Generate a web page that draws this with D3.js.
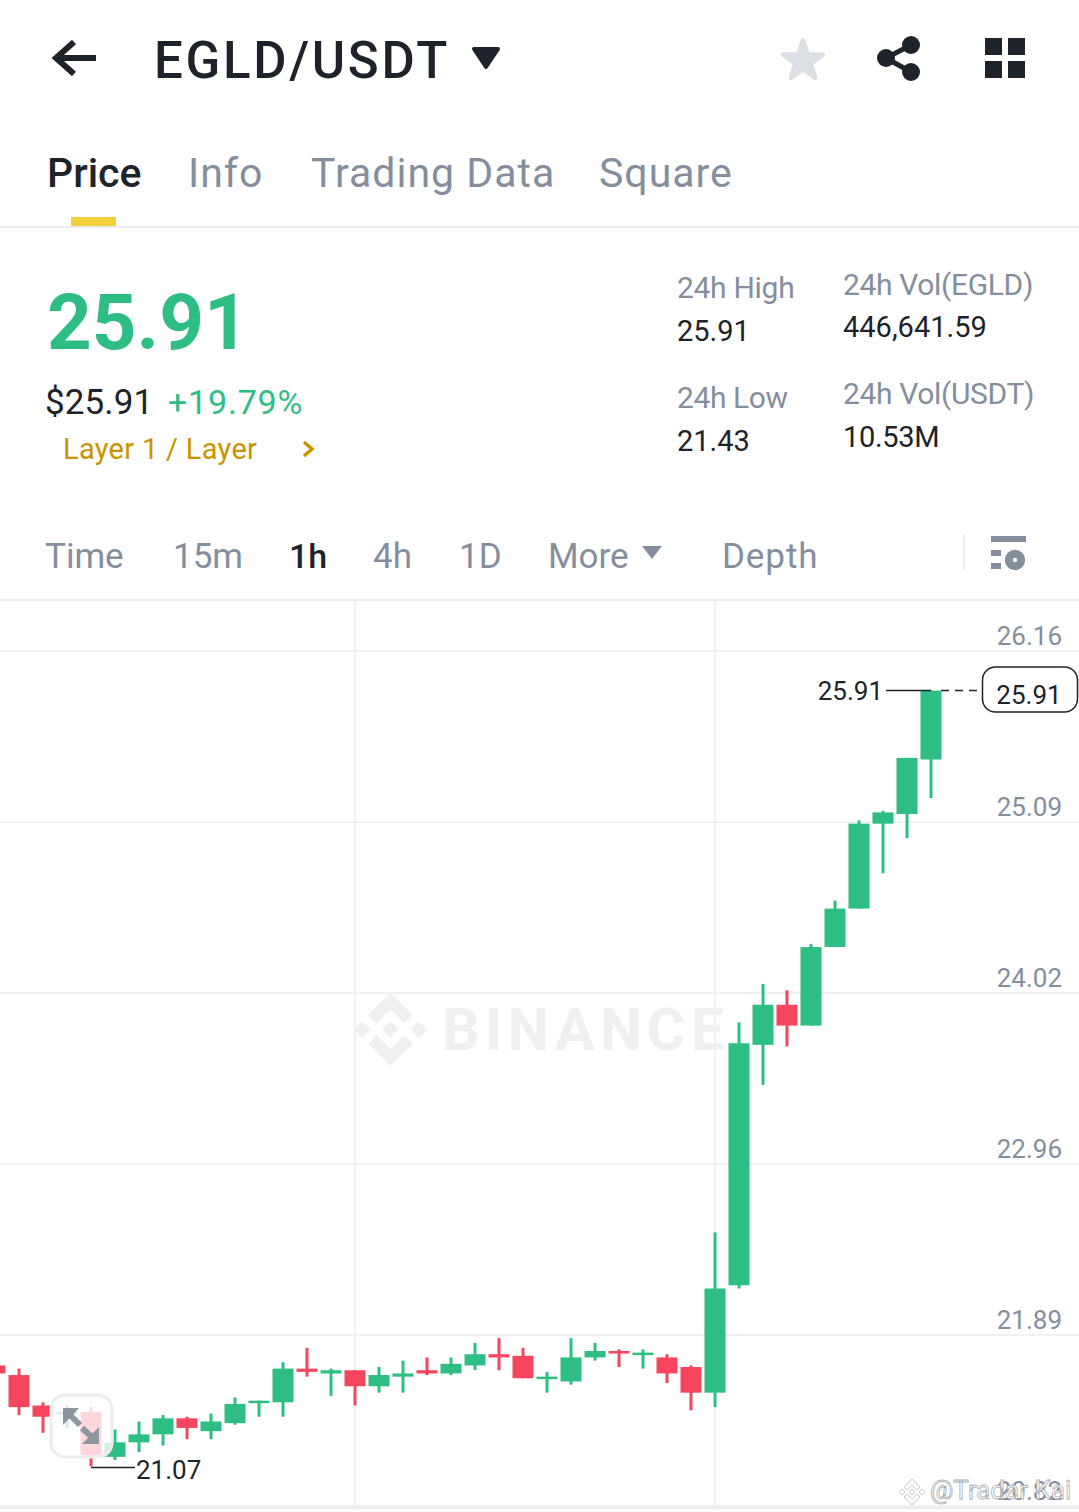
<!DOCTYPE html>
<html>
<head>
<meta charset="utf-8">
<script src="https://cdn.jsdelivr.net/npm/d3@7"></script>
<style>
  html, body { margin: 0; background: #fff; }
  svg { display: block; }
  text { font-family: Roboto, sans-serif; }
</style>
</head>
<body>
<div id="chart"></div>
<script>
// hourly candles, left to right
var open  = [21.70,21.64,21.45,21.40,21.41,21.13,21.22,21.27,21.37,21.29,21.34,21.47,21.47,21.68,21.65,21.67,21.57,21.63,21.67,21.65,21.70,21.77,21.76,21.62,21.60,21.75,21.79,21.77,21.75,21.69,21.53,22.20,23.70,23.95,23.82,24.31,24.55,25.08,25.14,25.48];
var high  = [21.70,21.68,21.47,21.45,21.44,21.30,21.35,21.39,21.38,21.40,21.50,21.48,21.72,21.81,21.68,21.67,21.69,21.73,21.75,21.75,21.84,21.87,21.81,21.66,21.87,21.84,21.80,21.80,21.77,21.70,22.53,23.84,24.08,24.04,24.33,24.60,25.10,25.16,25.49,25.91];
var low   = [21.65,21.39,21.28,21.31,21.07,21.11,21.16,21.20,21.24,21.24,21.33,21.38,21.38,21.63,21.51,21.45,21.53,21.53,21.64,21.64,21.67,21.67,21.62,21.53,21.58,21.73,21.69,21.68,21.59,21.42,21.44,22.18,23.45,23.69,23.82,24.31,24.55,24.77,24.99,25.24];
var close = [21.65,21.44,21.38,21.41,21.14,21.22,21.27,21.37,21.31,21.35,21.46,21.48,21.68,21.66,21.67,21.57,21.64,21.65,21.65,21.71,21.77,21.75,21.62,21.63,21.75,21.79,21.78,21.78,21.65,21.53,22.18,23.71,23.95,23.82,24.31,24.55,25.08,25.15,25.49,25.91];

var priceTicks = [26.157,25.09,24.023,22.957,21.89,20.823];
var timeGrid = [15,30]; // candle index where the vertical lines sit

var tabs = ["Price","Info","Trading Data","Square"];
var tabX = [47,188,311,599];
var periods = ["Time","15m","1h","4h","1D","More","Depth"];
var periodX = [45,173,289,373,459,548,722];

var green = "#2ebd85", red = "#f6465d", ink = "#1e2329", grey = "#848e9c", line = "#eaecef";
var logoPath = "M38.73 53.2l24.59-24.58 24.6 24.6 14.3-14.31L63.32 0l-38.9 38.9zM0 63.31l14.3-14.31 14.31 14.31-14.31 14.3zM38.73 73.41l24.59 24.59 24.6-24.6 14.31 14.29-38.9 38.91-38.91-38.88v-.03zM98.28 63.32l14.3-14.31 14.31 14.3-14.31 14.32zM77.83 63.3L63.32 48.78 52.59 59.51l-1.24 1.23-2.54 2.54 14.51 14.5 14.51-14.47z";

var svg = d3.select("#chart").append("svg").attr("width", 1079).attr("height", 1512);

function label(str, x, y, size, fill, weight, anchor, spacing) {
    return svg.append("text").attr("x", x).attr("y", y)
        .attr("font-size", size).attr("fill", fill)
        .attr("font-weight", weight || 400)
        .attr("text-anchor", anchor || "start")
        .attr("letter-spacing", spacing || 0)
        .text(str);
}

// header
svg.append("path").attr("d", "M96 58H56M74 42L56 58L74 74")
    .attr("fill", "none").attr("stroke", ink).attr("stroke-width", 6);
label("EGLD/USDT", 154, 78, 51, ink, 500, "start", 2.7);
svg.append("path").attr("d", "M474 49H498L486 67Z").attr("fill", ink).attr("stroke", ink).attr("stroke-width", 4).attr("stroke-linejoin", "round");

svg.append("path").attr("d", d3.symbol().type(d3.symbolStar).size(470))
    .attr("transform", "translate(803,61)")
    .attr("fill", "#dcdfe3").attr("stroke", "#dcdfe3").attr("stroke-width", 5).attr("stroke-linejoin", "round");

svg.append("path").attr("d", "M911 45L886 58L911 72").attr("fill", "none").attr("stroke", ink).attr("stroke-width", 5);
[[911,45],[886,58],[911,72]].forEach(function (p) {
    svg.append("circle").attr("cx", p[0]).attr("cy", p[1]).attr("r", 9).attr("fill", ink);
});
[[985,38],[1008,38],[985,61],[1008,61]].forEach(function (p) {
    svg.append("rect").attr("x", p[0]).attr("y", p[1]).attr("width", 17).attr("height", 17).attr("fill", ink);
});

// tabs
tabs.forEach(function (t, i) {
    label(t, tabX[i], 187, 41, i == 0 ? ink : grey, i == 0 ? 500 : 400, "start", i == 0 ? 0 : 1);
});
svg.append("rect").attr("x", 71).attr("y", 217).attr("width", 45).attr("height", 9).attr("fill", "#f3cf3c");
svg.append("rect").attr("x", 0).attr("y", 226).attr("width", 1079).attr("height", 2).attr("fill", line);

// price block
label("25.91", 47, 349, 78, green, 700);
label("$25.91", 45, 414, 35, ink, 400, "start", 0.1);
label("+19.79%", 168, 414, 34, green, 400, "start", 0.8);
label("Layer 1 / Layer", 63, 459, 29, "#c99400", 400, "start", 0.3);
svg.append("path").attr("d", "M304 442L312 449L304 456").attr("fill", "none").attr("stroke", "#c99400").attr("stroke-width", 3.5);

label("24h High", 677, 298, 30, grey, 400, "start", -0.3);
label("25.91", 677, 341, 29, ink);
label("24h Low", 677, 408, 30, grey, 400, "start", -0.4);
label("21.43", 677, 451, 29, ink);
label("24h Vol(EGLD)", 843, 295, 30, grey, 400, "start", -0.35);
label("446,641.59", 843, 337, 29, ink);
label("24h Vol(USDT)", 843, 404, 30, grey, 400, "start", -0.35);
label("10.53M", 843, 447, 29, ink, 400, "start", -0.3);

// period row
periods.forEach(function (p, i) {
    var on = p == "1h";
    label(p, periodX[i], 568, on ? 34 : 35, on ? ink : grey, on ? 500 : 400, "start", p == "Depth" ? 0.9 : 0);
});
svg.append("path").attr("d", "M642 546H662L652 559Z").attr("fill", grey);
svg.append("rect").attr("x", 963).attr("y", 535).attr("width", 2).attr("height", 35).attr("fill", line);
svg.append("rect").attr("x", 991).attr("y", 536).attr("width", 35).attr("height", 6).attr("fill", grey);
svg.append("rect").attr("x", 991).attr("y", 550).attr("width", 10).attr("height", 6).attr("fill", grey);
svg.append("rect").attr("x", 991).attr("y", 563).attr("width", 10).attr("height", 6).attr("fill", grey);
svg.append("path").attr("d", d3.symbol().type(d3.symbolCircle).size(120))
    .attr("transform", "translate(1015,560)").attr("fill", "#fff").attr("stroke", grey).attr("stroke-width", 8);
svg.append("rect").attr("x", 0).attr("y", 599).attr("width", 1079).attr("height", 2).attr("fill", line);

// chart
var x = d3.scaleLinear().domain([0, open.length - 1]).range([-5, 931]);
var y = d3.scaleLinear().domain([priceTicks[5], priceTicks[0]]).range([1506, 651]);

svg.append("g").selectAll("line").data(timeGrid).enter().append("line")
    .attr("x1", function (d) { return x(d); }).attr("x2", function (d) { return x(d); })
    .attr("y1", 600).attr("y2", 1507)
    .attr("stroke", line).attr("stroke-width", 1.5);
svg.append("g").selectAll("line").data(priceTicks).enter().append("line")
    .attr("x1", 0).attr("x2", 1079)
    .attr("y1", function (d) { return y(d); }).attr("y2", function (d) { return y(d); })
    .attr("stroke", line).attr("stroke-width", 1.5);

svg.append("path").attr("d", logoPath)
    .attr("transform", "translate(354,993) scale(0.575)").attr("fill", "#eef0f1");
label("BINANCE", 442, 1050, 59, "#eef0f1", 700, "start", 5.3);

var candles = svg.append("g").selectAll("g").data(open).enter().append("g")
    .attr("fill", function (d, i) { return close[i] >= open[i] ? green : red; });
candles.append("rect")
    .attr("x", function (d, i) { return x(i) - 1.5; })
    .attr("width", 3)
    .attr("y", function (d, i) { return y(high[i]); })
    .attr("height", function (d, i) { return y(low[i]) - y(high[i]); });
candles.append("rect")
    .attr("x", function (d, i) { return x(i) - 10.5; })
    .attr("width", 21)
    .attr("y", function (d, i) { return y(Math.max(open[i], close[i])); })
    .attr("height", function (d, i) { return Math.max(Math.abs(y(open[i]) - y(close[i])), 2.5); });

// price axis, labels sit just above their grid line
var axis = svg.append("g").attr("transform", "translate(1062,0)")
    .call(d3.axisLeft(y).tickValues(priceTicks).tickFormat(d3.format(".2f")).tickSize(0));
axis.select(".domain").remove();
axis.selectAll("text").attr("x", 0).attr("dy", -6.5).attr("font-size", 26)
    .attr("fill", grey).attr("font-family", "Roboto, sans-serif");

// last, high and low markers
var last = close.length - 1, lowIdx = low.indexOf(d3.min(low));
svg.append("line").attr("x1", 886).attr("x2", x(last)).attr("y1", y(high[last])).attr("y2", y(high[last]))
    .attr("stroke", ink).attr("stroke-width", 1.5);
label(d3.format(".2f")(high[last]), 883, 700, 26, ink, 400, "end");
svg.append("line").attr("x1", x(last) + 10).attr("x2", 982).attr("y1", y(close[last])).attr("y2", y(close[last]))
    .attr("stroke", ink).attr("stroke-width", 1.5).attr("stroke-dasharray", "8 6");
svg.append("rect").attr("x", 982.5).attr("y", 667).attr("width", 95).attr("height", 45).attr("rx", 13)
    .attr("fill", "#fff").attr("stroke", ink).attr("stroke-width", 1.5);
label(d3.format(".2f")(close[last]), 1029, 704, 26, ink, 400, "middle");
svg.append("line").attr("x1", x(lowIdx)).attr("x2", 135).attr("y1", y(low[lowIdx]) + 1).attr("y2", y(low[lowIdx]) + 1)
    .attr("stroke", ink).attr("stroke-width", 1.5);
label(d3.format(".2f")(low[lowIdx]), 136, 1479, 26, ink);

// expand button over the candles
svg.append("rect").attr("x", 51).attr("y", 1395).attr("width", 61).attr("height", 62).attr("rx", 14)
    .attr("fill", "#fff").attr("fill-opacity", 0.78).attr("stroke", "#ecedef").attr("stroke-width", 3);
svg.append("path").attr("d", "M63 1408H79L63 1425Z M99 1444H82L99 1427Z").attr("fill", "#8f95a0");
svg.append("path").attr("d", "M68 1413L80 1425M94 1439L82 1428")
    .attr("fill", "none").attr("stroke", "#8f95a0").attr("stroke-width", 6);

// reposted-by stamp in the corner
svg.append("path").attr("d", logoPath)
    .attr("transform", "translate(899,1479) scale(0.205)")
    .attr("fill", "#fff").attr("stroke", "#b9bcc1").attr("stroke-width", 4);
label("@Tradar Kai", 930, 1499, 26, "#fff").attr("stroke", "#a9adb3").attr("stroke-width", 0.8);

svg.append("rect").attr("x", 0).attr("y", 1507).attr("width", 1079).attr("height", 2).attr("fill", line);
</script>
</body>
</html>
